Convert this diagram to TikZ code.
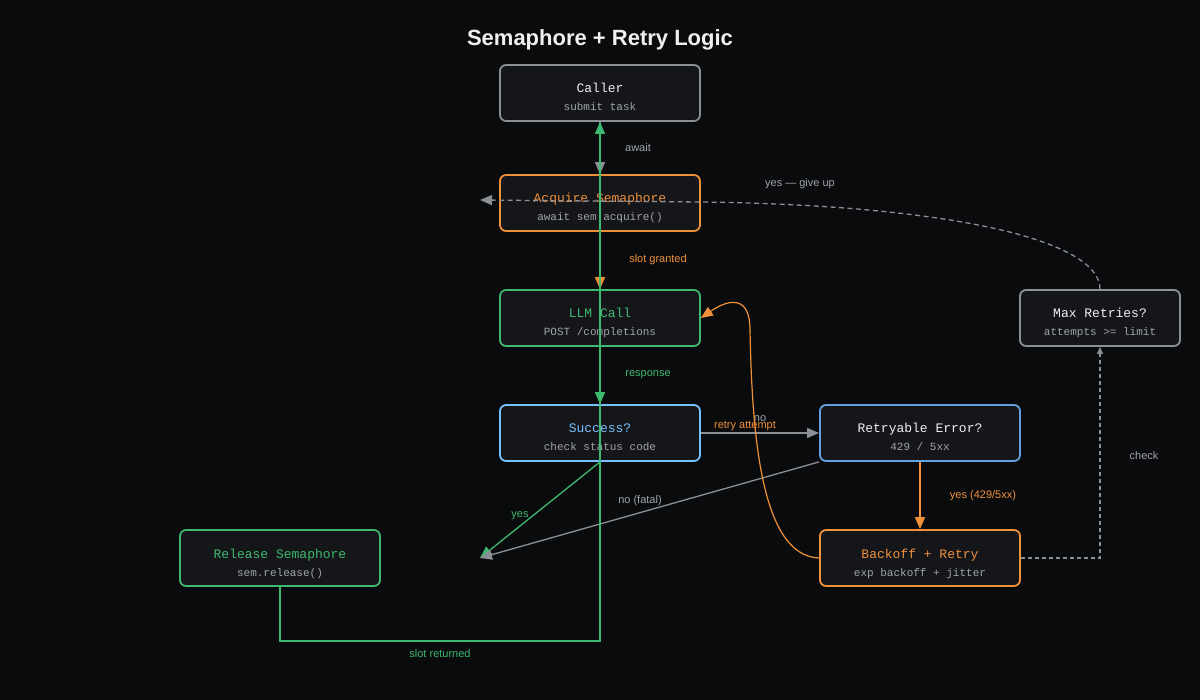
\documentclass[tikz,border=0pt]{standalone}
\usepackage{fontspec}
\setmainfont{Liberation Sans}
\setmonofont{Liberation Mono}
\usetikzlibrary{arrows.meta,positioning}

\definecolor{fondo}{HTML}{0A0B0D}
\definecolor{cajafondo}{HTML}{15161A}
\definecolor{gris}{HTML}{8B8F96}
\definecolor{gristexto}{HTML}{A0A4AB}
\definecolor{blanco}{HTML}{F0F0F0}
\definecolor{naranja}{HTML}{F0913A}
\definecolor{verde}{HTML}{3FB96F}
\definecolor{celeste}{HTML}{79C0FF}
\definecolor{azul}{HTML}{62A2DA}

\begin{document}
\begin{tikzpicture}[x=1pt, y=-1pt,
    caja/.style={draw, rounded corners=6pt, fill=cajafondo, line width=1.8pt,
                 minimum width=200pt, minimum height=56pt, inner sep=0pt},
    titulo/.style={anchor=base, inner sep=0pt, text=blanco,
                   font=\ttfamily\fontsize{13}{15}\selectfont},
    sub/.style={anchor=base, inner sep=0pt, yshift=-18pt, text=gristexto,
                font=\ttfamily\fontsize{11}{13}\selectfont},
    etiqueta/.style={inner sep=1pt, font=\fontsize{11}{13}\selectfont},
    flecha/.style={line width=1.5pt, -{Triangle[length=12pt,width=10pt]}}]

    % Fondo y título
    \fill[fondo] (0,0) rectangle (1200,700);
    \node[text=blanco, font=\bfseries\fontsize{22}{24}\selectfont] (titulo) at (600,39.5) {Semaphore + Retry Logic};

    % Definimos las cajas
    \node[caja, draw=gris] (caller) at (600,93) {};
    \node[titulo] (caller-t) at (caller.center) {Caller};
    \node[sub] (caller-s) at (caller.center) {submit task};

    \node[caja, draw=naranja] (acquire) at (600,203) {};
    \node[titulo, text=naranja] (acquire-t) at (acquire.center) {Acquire Semaphore};
    \node[sub] (acquire-s) at (acquire.center) {await sem.acquire()};

    \node[caja, draw=verde] (llm) at (600,318) {};
    \node[titulo, text=verde] (llm-t) at (llm.center) {LLM Call};
    \node[sub] (llm-s) at (llm.center) {POST /completions};

    \node[caja, draw=celeste] (success) at (600,433) {};
    \node[titulo, text=celeste] (success-t) at (success.center) {Success?};
    \node[sub] (success-s) at (success.center) {check status code};

    \node[caja, draw=azul] (retry) at (920,433) {};
    \node[titulo] (retry-t) at (retry.center) {Retryable Error?};
    \node[sub] (retry-s) at (retry.center) {429 / 5xx};

    \node[caja, draw=naranja] (backoff) at (920,558) {};
    \node[titulo, text=naranja] (backoff-t) at (backoff.center) {Backoff + Retry};
    \node[sub] (backoff-s) at (backoff.center) {exp backoff + jitter};

    \node[caja, draw=gris, minimum width=160pt] (maxr) at (1100,318) {};
    \node[titulo] (maxr-t) at (maxr.center) {Max Retries?};
    \node[sub] (maxr-s) at (maxr.center) {attempts >= limit};

    \node[caja, draw=verde] (release) at (280,558) {};
    \node[titulo, text=verde] (release-t) at (release.center) {Release Semaphore};
    \node[sub] (release-s) at (release.center) {sem.release()};

    % Extremos sueltos
    \coordinate (fin) at (480,558);
    \coordinate (rendirse) at (480,200);

    % Dibujamos las aristas
    \draw[flecha, gris] (caller) -- (acquire)
        node[etiqueta, text=gristexto] at (638,148) {await};
    \draw[flecha, naranja] (acquire) -- (llm)
        node[etiqueta, text=naranja] at (658,260) {slot granted};
    \draw[flecha, verde] (llm) -- (success)
        node[etiqueta, text=verde] at (648,375) {response};
    \draw[flecha, gris] (success) -- (retry)
        node[etiqueta, text=gristexto] at (760,419) {no};
    \draw[flecha, verde, line width=1.3pt] (success.south) -- (fin)
        node[etiqueta, text=verde] at (520,516) {yes};
    \draw[flecha, gris, line width=1.3pt] (retry.south west) -- (fin)
        node[etiqueta, text=gristexto] at (640,501) {no (fatal)};
    \draw[flecha, naranja] (retry) -- (backoff)
        node[etiqueta, text=naranja] at (983,496) {yes (429/5xx)};
    \draw[flecha, naranja, line width=1.2pt] (backoff.west)
        .. controls (760,556) and (752,430) .. (750,330)
        .. controls (750,296) and (730,298) .. (llm.east)
        node[etiqueta, text=naranja] at (745,426) {retry attempt};
    \draw[gris, dashed, line width=1.3pt, dash pattern=on 4pt off 3pt,
          -{Triangle[length=7pt,width=6pt]}] (backoff.east) -| (maxr.south)
        node[etiqueta, text=gristexto] at (1144,456) {check};
    \draw[flecha, gris, line width=1.3pt, dash pattern=on 5pt off 3.5pt] (maxr.north)
        .. controls (1100,240) and (950,205) .. (700,202) -- (rendirse)
        node[etiqueta, text=gristexto] at (800,184) {yes — give up};
    \draw[flecha, verde] (release.south) -- ++(0,54) -| (caller.south)
        node[etiqueta, text=verde] at (440,654) {slot returned};
\end{tikzpicture}
\end{document}
